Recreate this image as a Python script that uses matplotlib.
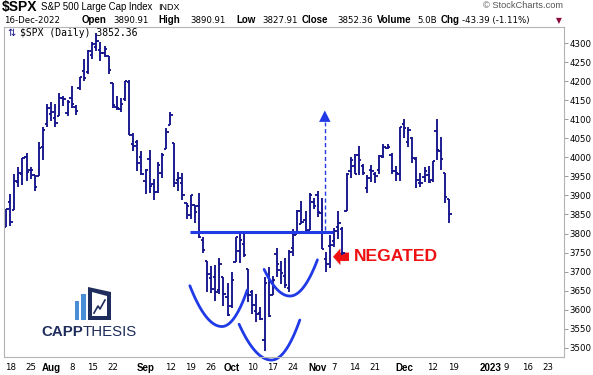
import numpy as np
import pandas as pd
import matplotlib
matplotlib.use('Agg')
import matplotlib.pyplot as plt
from matplotlib.collections import LineCollection
from matplotlib.patches import FancyArrow, Polygon, Rectangle

# --- data: $SPX daily OHLC, 15-Jul-2022 .. 16-Dec-2022
holidays = ['2022-09-05', '2022-11-24', '2022-12-26', '2023-01-02']
first_day = '2022-07-15'
opens = [3818.00, 3883.79, 3860.73, 3935.32, 3955.47, 4000.42, 3965.72, 3953.22, 3951.43, 4026.13,
         4087.33, 4112.38, 4104.21, 4107.96, 4154.85, 4115.87, 4155.93, 4133.11, 4181.02, 4227.40,
         4225.02, 4269.37, 4290.46, 4280.40, 4273.13, 4266.31, 4195.08, 4133.09, 4126.55, 4153.26,
         4198.74, 4034.58, 4041.25, 4000.67, 3936.73, 3994.66, 3930.89, 3909.43, 3959.94, 4022.94,
         4083.67, 4037.12, 3940.73, 3932.41, 3880.95, 3849.91, 3875.23, 3871.40, 3782.36, 3727.14,
         3682.72, 3686.44, 3651.94, 3687.01, 3633.48, 3609.78, 3726.46, 3753.25, 3771.97, 3706.74,
         3647.51, 3595.86, 3590.83, 3520.37, 3690.41, 3638.65, 3746.26, 3703.11, 3689.05, 3657.10,
         3762.01, 3799.44, 3825.97, 3834.69, 3808.26, 3881.85, 3901.79, 3852.90, 3733.25, 3766.98,
         3780.71, 3817.02, 3810.94, 3859.89, 3963.72, 3977.97, 4006.41, 3976.82, 3919.26, 3966.39,
         3956.23, 3965.51, 4000.30, 4023.34, 4005.36, 3964.19, 3957.18, 4087.14, 4040.17, 4052.02,
         3996.63, 3933.28, 3947.79, 3954.17, 3939.29, 4069.38, 4015.54, 3958.37, 3890.91]
highs = [3863.62, 3902.44, 3956.12, 3974.13, 3999.29, 4012.44, 3975.30, 3953.22, 4039.56, 4078.95,
         4140.15, 4144.95, 4140.47, 4167.66, 4161.29, 4151.58, 4186.62, 4137.30, 4211.03, 4257.91,
         4280.47, 4301.79, 4325.28, 4302.18, 4292.53, 4266.31, 4195.08, 4159.77, 4156.56, 4200.54,
         4203.04, 4062.99, 4044.98, 4015.37, 3970.23, 4018.43, 3942.55, 3987.89, 4010.50, 4076.81,
         4119.28, 4037.12, 3961.94, 3959.14, 3880.95, 3900.45, 3876.01, 3907.07, 3790.22, 3727.14,
         3715.67, 3717.53, 3736.74, 3687.01, 3671.44, 3698.35, 3791.92, 3806.91, 3797.93, 3706.74,
         3652.17, 3640.66, 3608.34, 3685.41, 3712.00, 3689.73, 3762.79, 3728.58, 3736.00, 3757.89,
         3810.74, 3862.85, 3886.15, 3859.95, 3905.42, 3893.73, 3911.79, 3894.44, 3750.59, 3796.34,
         3813.95, 3859.40, 3818.20, 3958.33, 4001.48, 4008.97, 4028.84, 3983.09, 3954.33, 3979.89,
         3962.00, 4005.88, 4033.78, 4034.02, 4012.27, 3976.77, 4080.11, 4100.51, 4080.48, 4052.45,
         4001.51, 3957.57, 3974.19, 3977.02, 3990.71, 4100.96, 4053.76, 3958.37, 3890.91]
lows = [3817.18, 3818.63, 3860.73, 3922.03, 3927.64, 3938.85, 3943.46, 3910.74, 3951.43, 3992.97,
        4079.22, 4096.02, 4079.81, 4107.96, 4135.42, 4107.31, 4128.97, 4112.09, 4177.26, 4201.41,
        4219.78, 4256.90, 4277.77, 4253.08, 4261.98, 4218.70, 4129.86, 4124.03, 4119.97, 4147.59,
        4057.66, 4017.42, 3965.21, 3954.53, 3903.65, 3906.21, 3886.75, 3906.03, 3944.81, 4022.94,
        4083.67, 3921.94, 3912.39, 3888.28, 3837.08, 3838.50, 3827.54, 3789.49, 3749.45, 3647.47,
        3644.76, 3623.29, 3640.61, 3610.40, 3584.13, 3604.93, 3726.46, 3722.66, 3739.22, 3620.73,
        3588.10, 3568.45, 3573.86, 3491.58, 3579.68, 3638.65, 3686.53, 3666.51, 3656.44, 3647.42,
        3741.65, 3799.44, 3824.07, 3803.79, 3808.26, 3863.18, 3843.80, 3758.68, 3698.15, 3708.84,
        3764.70, 3786.28, 3744.22, 3859.89, 3944.82, 3956.40, 3953.17, 3954.34, 3906.54, 3935.98,
        3933.34, 3956.88, 3998.66, 4020.76, 3955.77, 3937.65, 3938.58, 4050.87, 4026.63, 3984.49,
        3918.39, 3922.68, 3935.83, 3933.04, 3935.30, 3993.03, 3965.65, 3879.45, 3827.91]
closes = [3863.16, 3830.85, 3936.69, 3959.90, 3998.95, 3961.63, 3966.84, 3921.05, 4023.61, 4072.43,
          4130.29, 4118.63, 4091.19, 4155.17, 4151.94, 4145.19, 4140.06, 4122.47, 4210.24, 4207.27,
          4280.15, 4297.14, 4305.20, 4274.04, 4283.74, 4228.48, 4137.99, 4128.73, 4140.77, 4199.12,
          4057.66, 4030.61, 3986.16, 3955.00, 3966.85, 3924.26, 3908.19, 3979.87, 4006.18, 4067.36,
          4110.41, 3932.69, 3946.01, 3901.35, 3873.33, 3899.89, 3855.93, 3789.93, 3757.99, 3693.23,
          3655.04, 3647.29, 3719.04, 3640.47, 3585.62, 3678.43, 3790.93, 3783.28, 3744.52, 3639.66,
          3612.39, 3588.84, 3577.03, 3669.91, 3583.07, 3677.95, 3719.98, 3695.16, 3665.78, 3752.75,
          3797.34, 3859.11, 3830.60, 3807.30, 3901.06, 3871.98, 3856.10, 3759.69, 3719.89, 3770.55,
          3806.80, 3828.11, 3748.57, 3956.37, 3992.93, 3957.25, 3991.73, 3958.79, 3946.56, 3965.34,
          3949.94, 4003.58, 4027.26, 4026.12, 3963.94, 3957.63, 4080.11, 4076.57, 4071.70, 3998.84,
          3941.26, 3933.92, 3963.51, 3934.38, 3990.56, 4019.65, 3995.32, 3895.75, 3852.36]

tick_dates = ['2022-07-18', '2022-07-25', '2022-08-01', '2022-08-08', '2022-08-15', '2022-08-22',
              '2022-09-01', '2022-09-12', '2022-09-19', '2022-09-26', '2022-10-03', '2022-10-10',
              '2022-10-17', '2022-10-24', '2022-11-01', '2022-11-07', '2022-11-14', '2022-11-21',
              '2022-12-01', '2022-12-12', '2022-12-19', '2023-01-03', '2023-01-09', '2023-01-16',
              '2023-01-23']
tick_text = ['18', '25', 'Aug', '8', '15', '22', 'Sep', '12', '19', '26', 'Oct', '10', '17', '24',
             'Nov', '7', '14', '21', 'Dec', '12', '19', '2023', '9', '16', '23']
price_ticks = list(range(3500, 4301, 50))

# annotation levels (price / trading-day index)
neckline = 3805
neck_from, neck_to = 44.8, 79.7
target_x, target_lo, target_hi = 77.7, 3810, 4093
arcs = [  # (x_left, x_bottom, x_right, y_left, y_bottom, y_right)
    (44.8, 52.6, 58.8, 3663, 3556, 3652),
    (56.8, 64.7, 71.6, 3562, 3468, 3573),
    (62.9, 69.2, 75.9, 3706, 3636, 3731),
]
negated_y = 3739

W, H = 593, 375
NAVY = '#14148c'
BLUE = '#1f3ae6'
RED = '#ee1111'

trade_days = pd.bdate_range(first_day, '2023-01-31', freq='C', holidays=holidays)
pos = {d.strftime('%Y-%m-%d'): i for i, d in enumerate(trade_days)}
x = np.arange(len(closes))

fig = plt.figure(figsize=(W / 100, H / 100), dpi=100)
ax = fig.add_axes([4 / W, 1 - 357 / H, 560 / W, 330 / H])

# OHLC bars
segs = []
for i in x:
    segs.append([(i, lows[i]), (i, highs[i])])
    segs.append([(i - 0.6, opens[i]), (i, opens[i])])
    segs.append([(i, closes[i]), (i + 0.6, closes[i])])
ax.add_collection(LineCollection(segs, colors=NAVY, linewidths=1.35))

ax.set_xlim(-0.5, 136)
ax.set_ylim(3476, 4342)

# neckline + measured move
ax.plot([neck_from, neck_to], [neckline, neckline], color=BLUE, lw=2.2, solid_capstyle='butt')
ax.plot([target_x, target_x], [target_lo, target_hi], color=BLUE, lw=1, ls=(0, (3, 2)))
ax.add_patch(Polygon([(target_x - 1.4, target_hi), (target_x + 1.4, target_hi),
                      (target_x, target_hi + 30)], closed=True, color=BLUE, lw=0))

# hand drawn bottoms
for xl, xb, xr, yl, yb, yr in arcs:
    t1 = np.linspace(xl, xb, 40)
    t2 = np.linspace(xb, xr, 40)
    y1 = yb + (yl - yb) * ((t1 - xb) / (xl - xb)) ** 2
    y2 = yb + (yr - yb) * ((t2 - xb) / (xr - xb)) ** 2
    ax.plot(np.r_[t1, t2], np.r_[y1, y2], color=BLUE, lw=2, clip_on=False,
            solid_capstyle='round')

ax.add_patch(FancyArrow(83.6, negated_y, -3.9, 0, width=22, head_width=44, head_length=1.8,
                        length_includes_head=True, color=RED, lw=0))
ax.text(84.8, negated_y, 'NEGATED', color=RED, fontsize=12.6, fontweight='bold',
        family='Liberation Sans', va='center', ha='left')

# axes styling
for s in ['left', 'top', 'right']:
    ax.spines[s].set_color('#b4b4b4')
    ax.spines[s].set_linewidth(0.8)
ax.spines['bottom'].set_color('#b4b4b4')
ax.spines['bottom'].set_linestyle((0, (1, 1)))
ax.spines['bottom'].set_linewidth(0.8)

ax.yaxis.tick_right()
ax.set_yticks(price_ticks)
ax.set_yticklabels([str(p) for p in price_ticks])
ax.tick_params(axis='y', length=3, width=0.7, color='#999999', pad=1, labelsize=6.2,
               labelcolor='black')
ax.set_xticks([pos[d] for d in tick_dates])
ax.set_xticklabels(tick_text)
ax.tick_params(axis='x', length=0, pad=4, labelsize=6.2)
for lab in ax.get_xticklabels():
    if not lab.get_text().isdigit() or len(lab.get_text()) == 4:
        lab.set_fontweight('bold')
        lab.set_fontsize(7)
        lab.set_family('Liberation Sans')


def px(xp, yp):
    return xp / W, 1 - yp / H


# header
fig.text(*px(2, 10.5), '$SPX', fontsize=10, fontweight='bold', family='Liberation Sans')
fig.text(*px(41, 10.5), 'S&P 500 Large Cap Index', fontsize=6.9, family='Liberation Sans')
fig.text(*px(158, 10.5), 'INDX', fontsize=6.5, family='Liberation Sans')
fig.text(*px(563, 8), '\u00a9 StockCharts.com', fontsize=6.7, family='Liberation Sans',
         color='#555555', ha='right')

fig.text(*px(4, 23), '16-Dec-2022', fontsize=6.2, family='DejaVu Sans')
line2 = [(82, 'Open', 113, '3890.91'), (158, 'High', 190, '3890.91'),
         (236, 'Low', 262, '3827.91'), (302, 'Close', 337, '3852.36'),
         (376, 'Volume', 417, '5.0B'), (437, 'Chg', 453, '-43.39 (-1.11%)')]
fig.canvas.draw()
rend = fig.canvas.get_renderer()
prev = 0
for xp, lab, xv, val in line2:
    t = fig.text(max(xp, prev + 4) / W, 1 - 23 / H, lab, fontsize=7.0,
                 family='Liberation Sans', fontweight='bold')
    end = t.get_window_extent(renderer=rend).x1
    v = fig.text(max(xv, end + 2) / W, 1 - 23 / H, val, fontsize=6.2, family='DejaVu Sans')
    prev = v.get_window_extent(renderer=rend).x1
fig.text(*px(556, 23), '\u25bc', fontsize=5.5, color='#8b0a3c', family='DejaVu Sans')

fig.text(*px(7, 35.5), '\u21c5', fontsize=7, color=NAVY, family='DejaVu Sans')
fig.text(*px(20, 35.5), '$SPX (Daily) 3852.36', fontsize=7, family='DejaVu Sans Mono')


# CAPPTHESIS logo
def rect(x0, y0, x1, y1, c):
    fig.patches.append(Rectangle(px(x0, y1), (x1 - x0) / W, (y1 - y0) / H, color=c, lw=0,
                                 transform=fig.transFigure, figure=fig))


LOGO_NAVY = '#1f2d5c'
LOGO_BLUE = '#4a8fd6'
rect(75, 301, 79, 320, LOGO_BLUE)
rect(81, 294, 86, 320, LOGO_BLUE)
fig.patches.append(Polygon([px(88, 320), px(111, 320), px(111, 292), px(88, 287)], closed=True,
                           color=LOGO_NAVY, lw=0, transform=fig.transFigure, figure=fig))
fig.patches.append(Polygon([px(92, 316), px(107, 316), px(107, 296), px(92, 292)], closed=True,
                           color='white', lw=0, transform=fig.transFigure, figure=fig))
lx = [94, 98, 100, 105]
ly = [313, 306, 309, 300]
fig.lines.append(plt.Line2D([px(a, b)[0] for a, b in zip(lx, ly)],
                            [px(a, b)[1] for a, b in zip(lx, ly)], color=LOGO_NAVY, lw=1.2,
                            transform=fig.transFigure, figure=fig))
t1 = fig.text(*px(41, 336), 'CAPP', fontsize=10.8, fontweight='bold', color=LOGO_NAVY,
              family='Liberation Sans')
bb = t1.get_window_extent(renderer=rend)
fig.text(bb.x1 / W, 1 - 336 / H, 'THESIS', fontsize=10.8, color=LOGO_NAVY,
         family='Liberation Sans')

fig.savefig('out.png', dpi=100)
